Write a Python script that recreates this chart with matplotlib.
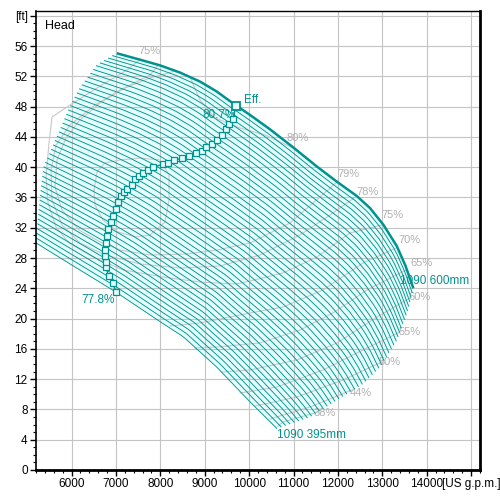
import numpy as np
import matplotlib
matplotlib.use("Agg")
import matplotlib.pyplot as plt
from matplotlib.ticker import MultipleLocator

plt.rcParams["font.family"] = ["Liberation Sans", "DejaVu Sans"]

TEAL = "#00928e"
CYAN = "#e4ffff"
GRID = "#c4c4c4"
EFF_GRAY = "#c8c8c8"
EFF_TXT = "#b0b0b0"

# --- pump curves (flow US gpm, head ft) --------------------------------------
# largest impeller, 600 mm
q600 = [7018, 7543, 7993, 8444, 8896, 9270, 9644, 9721, 10020, 10471, 10996,
        11523, 11973, 12423, 12723, 13023, 13324, 13520, 13700]
h600 = [55.05, 54.2, 53.45, 52.5, 51.3, 50.0, 48.4, 48.1, 46.9, 45.0, 42.6,
        40.1, 38.1, 36.2, 34.6, 32.4, 29.6, 27.0, 24.0]
# smallest impeller, 395 mm
q395 = [5200, 6000, 7002, 7993, 8518, 9270, 10020, 10622]
h395 = [30.0, 27.1, 23.5, 19.6, 17.6, 13.6, 9.0, 5.5]
# where the trimmed curves start (left edge) and stop (right edge)
left_q = [5200, 5246, 5313, 5381, 5516, 5741, 5966, 6191, 6574, 7018]
left_h = [30.0, 33.0, 37.0, 40.15, 41.87, 44.91, 47.96, 50.46, 53.5, 55.05]
right_q = [10622, 11371, 11972, 12571, 12947, 13324, 13549, 13700]
right_h = [5.5, 7.04, 9.25, 11.45, 13.65, 17.18, 20.7, 24.0]
n_curves = 46

# best efficiency points
bep_q = [7002, 6928, 6833, 6777, 6766, 6755, 6755, 6766, 6788, 6822, 6878, 6935,
         6991, 7047, 7115, 7182, 7250, 7356, 7437, 7527, 7617, 7723, 7836, 8054,
         8167, 8315, 8489, 8646, 8804, 8932, 9029, 9164, 9277, 9390, 9480, 9541,
         9631, 9705]
bep_h = [23.55, 24.7, 25.6, 26.8, 27.5, 28.3, 29.1, 30.0, 30.9, 31.8, 32.8, 33.6,
         34.5, 35.4, 36.2, 36.7, 37.1, 37.6, 38.4, 38.9, 39.2, 39.6, 39.96, 40.4,
         40.6, 40.9, 41.2, 41.5, 41.9, 42.2, 42.6, 43.0, 43.6, 44.25, 45.0, 45.7,
         46.3, 48.1]

# iso-efficiency lines
c80_q = [8669, 8894, 9232, 9794, 10358, 10965]
c80_h = [51.91, 48.87, 46.5, 45.18, 44.25, 42.6]
c79_q = [11979, 11439, 10920, 10020, 9277, 8579, 7768, 7092, 6642, 6169, 5786,
         5628, 5673, 5876, 6191, 6642, 7205, 7768, 8331]
c79_h = [38.04, 35.27, 32.63, 29.98, 29.06, 28.53, 28.4, 29.06, 30.12, 31.7,
         34.34, 37.38, 40.95, 43.85, 46.24, 48.48, 50.46, 51.78, 52.7]
c78_q = [12430, 11822, 11146, 10245, 9344, 8443, 7543, 6754, 6191, 5786, 5561,
         5538, 5651, 5966, 6529, 7092, 7768, 7948]
c78_h = [36.2, 33.68, 31.04, 28.4, 26.95, 26.68, 27.21, 28.4, 29.98, 32.36,
         35.66, 39.63, 42.93, 45.57, 48.21, 50.19, 52.18, 53.45]
c75_q = [7543, 7250, 6574, 5966, 5561, 5493, 5426, 5471, 5651, 5944, 6484, 7160,
         8061, 8894, 9704, 10020, 10763, 11529, 12272, 13015]
c75_h = [54.2, 52.84, 50.46, 48.21, 46.63, 43.19, 38.7, 35.27, 32.1, 29.98,
         28.14, 26.42, 25.49, 24.83, 24.57, 24.97, 26.02, 28.14, 31.31, 32.4]
c70_q = [13308, 12565, 11664, 10763, 10020, 8894, 8218]
c70_h = [29.32, 27.34, 23.78, 21.53, 20.74, 19.42, 19.02]
c65_q = [13533, 12655, 11889, 11146, 10245, 9277, 8781]
c65_h = [26.42, 23.78, 20.74, 18.49, 16.78, 16.25, 16.12]
c60_q = [13623, 12880, 11979, 11078, 10020, 9389]
c60_h = [22.72, 20.21, 16.78, 14.53, 13.21, 12.94]
c55_q = [13398, 12565, 11664, 10628, 9794]
c55_h = [18.23, 15.85, 13.21, 10.96, 10.17]
c50_q = [12993, 12114, 11078, 10132]
c50_h = [14.27, 11.89, 9.64, 8.45]
c44_q = [12317, 11371, 10470]
c44_h = [10.57, 8.32, 6.74]
c38_q = [11551, 10763, 10650]
c38_h = [7.66, 6.34, 5.8]
inner_q = [6507, 6574, 6754, 7092, 7543, 7993, 8196, 8196, 8106, 7768, 7453,
           7047, 6709, 6529, 6507]
inner_h = [36.99, 39.36, 40.55, 40.95, 41.21, 40.95, 38.97, 35.66, 32.76, 31.04,
           30.78, 31.44, 33.02, 34.99, 36.99]

eff_labels = ["75%", "80%", "79%", "78%", "75%", "70%", "65%", "60%", "55%",
              "50%", "44%", "38%"]
eff_lab_q = [7498, 10846, 11985, 12423, 12986, 13353, 13623, 13585, 13360,
             12909, 12272, 11445]
eff_lab_h = [55.3, 43.85, 39.06, 36.76, 33.62, 30.38, 27.37, 22.89, 18.27,
             14.3, 10.13, 7.49]


def along(qs, hs, frac):
    qs, hs = np.asarray(qs, float), np.asarray(hs, float)
    seg = np.hypot(np.diff(qs) * 0.0444, np.diff(hs) * 7.571)
    cum = np.r_[0, np.cumsum(seg)]
    d = frac * cum[-1]
    return np.interp(d, cum, qs), np.interp(d, cum, hs)


def profile(qs, hs, s):
    qs, hs = np.asarray(qs, float), np.asarray(hs, float)
    q = qs[0] + s * (qs[-1] - qs[0])
    h = np.interp(q, qs, hs)
    return (hs[0] - h) / (hs[0] - hs[-1])


fig = plt.figure(figsize=(5, 5), dpi=100)
ax = fig.add_axes([0.072, 0.06, 0.888, 0.9186])
ax.set_xlim(5200, 15200)
ax.set_ylim(0, 60.67)

# light cyan area covered by the curve family
poly_q = q395 + right_q + q600[::-1] + left_q[::-1]
poly_h = h395 + right_h + h600[::-1] + left_h[::-1]
ax.fill(poly_q, poly_h, color=CYAN, lw=0, zorder=0.3)

# efficiency lines
for cq, ch in [(c80_q, c80_h), (c79_q, c79_h), (c78_q, c78_h), (c75_q, c75_h),
               (c70_q, c70_h), (c65_q, c65_h), (c60_q, c60_h), (c55_q, c55_h),
               (c50_q, c50_h), (c44_q, c44_h), (c38_q, c38_h),
               (inner_q, inner_h)]:
    ax.plot(cq, ch, color=EFF_GRAY, lw=0.8, zorder=1.5)
for lab, lq, lh in zip(eff_labels, eff_lab_q, eff_lab_h):
    ax.text(lq, lh, lab, color=EFF_TXT, fontsize=8, ha="left", va="center",
            zorder=1.6)

# trimmed impeller curves
s = np.linspace(0, 1, 80)
g600 = profile(q600, h600, s)
g395 = profile(q395, h395, s)
for t in np.linspace(0, 1, n_curves)[:-1]:
    sq, sh = along(left_q, left_h, t)
    eq, eh = along(right_q, right_h, t)
    g = (1 - t) * g395 + t * g600
    ax.plot(sq + s * (eq - sq), sh - g * (sh - eh), color=TEAL, lw=0.65,
            zorder=2)
ax.plot(q600, h600, color=TEAL, lw=1.8, zorder=2.5, solid_capstyle="butt")

# BEP line
ax.plot(bep_q[:-1], bep_h[:-1], color=TEAL, lw=1.0, marker="s", ms=4.8,
        mfc=CYAN, mec=TEAL, mew=0.9, zorder=3)
ax.plot(bep_q[-2:], bep_h[-2:], color=TEAL, lw=1.0, zorder=2.9)
ax.plot(bep_q[-1], bep_h[-1], marker="s", ms=6, mfc=CYAN, mec=TEAL, mew=1.3,
        zorder=3.1)

ax.text(13398, 24.97, "1090 600mm", color=TEAL, fontsize=8.5, ha="left",
        va="center", zorder=2.2)
ax.text(10621, 4.58, "1090 395mm", color=TEAL, fontsize=8.5, ha="left",
        va="center", zorder=4)
ax.text(6230, 22.46, "77.8%", color=TEAL, fontsize=8.5, ha="left",
        va="center", zorder=4)
ax.text(8955, 46.9, "80.7%", color=TEAL, fontsize=8.5, ha="left",
        va="center", zorder=2.8)
ax.text(9885, 48.9, "Eff.", color=TEAL, fontsize=8.5, ha="left",
        va="center", zorder=4)
ax.text(0.02, 0.967, "Head", transform=ax.transAxes, fontsize=9, ha="left",
        va="center")

# axes, ticks, grid
xt = list(range(6000, 15001, 1000))
ax.set_xticks(xt)
ax.set_xticklabels([str(v) for v in xt[:-1]] + ["[US g.p.m.]"])
yt = list(range(0, 61, 4))
ax.set_yticks(yt)
ax.set_yticklabels([str(v) for v in yt[:-1]] + ["[ft]"])
ax.xaxis.set_minor_locator(MultipleLocator(200))
ax.yaxis.set_minor_locator(MultipleLocator(1))
ax.tick_params(which="major", direction="out", length=4, width=1,
               labelsize=8.5, pad=2)
ax.tick_params(which="minor", direction="out", length=2.5, width=0.8)
ax.grid(True, which="major", color=GRID, lw=0.8)
ax.set_axisbelow(True)

ax.spines["left"].set_linewidth(1.2)
ax.spines["top"].set_linewidth(1.0)
ax.spines["right"].set_linewidth(2.0)
ax.spines["bottom"].set_linewidth(2.0)

fig.savefig("out.png", dpi=100)
